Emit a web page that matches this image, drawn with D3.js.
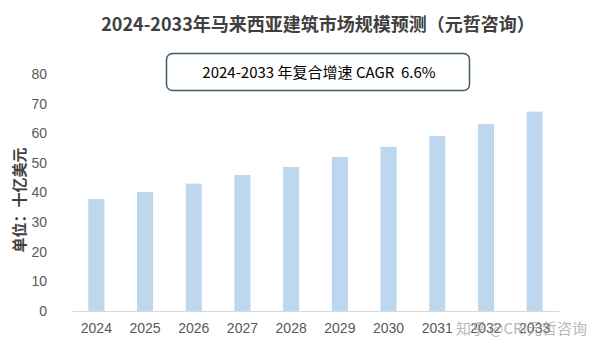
<!DOCTYPE html>
<html>
<head>
<meta charset="utf-8">
<script src="https://cdn.jsdelivr.net/npm/d3@7"></script>
<style>
  body { margin: 0; background: #fff; }
  svg { display: block; font-family: "Noto Sans CJK SC", "Noto Sans", sans-serif; }
</style>
</head>
<body>
<div id="chart"></div>
<script>
const years = ["2024", "2025", "2026", "2027", "2028", "2029", "2030", "2031", "2032", "2033"];
const marketSize = [37.8, 40.2, 43.0, 45.9, 48.6, 52.0, 55.4, 59.1, 63.1, 67.3];
const yTicks = [0, 10, 20, 30, 40, 50, 60, 70, 80];
const titleText = "2024-2033年马来西亚建筑市场规模预测（元哲咨询）";
const cagrText = "2024-2033 年复合增速 CAGR  6.6%";
const unitText = "单位：十亿美元";
const watermark = "知乎 @CRI元哲咨询";

const W = 600, H = 351;
const svg = d3.select("#chart").append("svg").attr("width", W).attr("height", H);

// plot area
const x = d3.scaleBand().domain(years).range([72, 559]).paddingInner(0.67).paddingOuter(0.335);
const y = d3.scaleLinear().domain([0, 80]).range([311, 74]);

// bars
svg.append("g").selectAll("rect")
  .data(years.map((d, i) => ({ year: d, v: marketSize[i] })))
  .join("rect")
    .attr("x", d => x(d.year))
    .attr("y", d => y(d.v))
    .attr("width", x.bandwidth())
    .attr("height", d => y(0) - y(d.v))
    .attr("fill", "#bdd7ee");

// x axis
const xAxis = svg.append("g").attr("transform", `translate(0,${y(0)})`)
  .call(d3.axisBottom(x).tickSize(0).tickPadding(12));
xAxis.select(".domain").attr("stroke", "#d9d9d9").attr("stroke-width", 1);
xAxis.selectAll("text").attr("fill", "#595959").style("font-size", "14px");

// y axis, labels only
const yAxis = svg.append("g").attr("transform", "translate(55,0)")
  .call(d3.axisLeft(y).tickValues(yTicks).tickSize(0).tickPadding(8));
yAxis.select(".domain").remove();
yAxis.selectAll("text").attr("fill", "#595959").style("font-size", "14px");

// title
svg.append("text")
  .attr("x", 318).attr("y", 31)
  .attr("text-anchor", "middle")
  .attr("fill", "#404040")
  .style("font-size", "18px").style("font-weight", "bold")
  .text(titleText);

// CAGR box
svg.append("rect")
  .attr("x", 166.5).attr("y", 53.5).attr("width", 303).attr("height", 37)
  .attr("rx", 6)
  .attr("fill", "#fff").attr("stroke", "#3e5c6e").attr("stroke-width", 1.5);
svg.append("text")
  .attr("x", 319).attr("y", 77.5)
  .attr("text-anchor", "middle")
  .attr("fill", "#000")
  .style("font-size", "15px")
  .attr("xml:space", "preserve")
  .text(cagrText);

// unit label
svg.append("text")
  .attr("transform", "translate(25,200) rotate(-90)")
  .attr("text-anchor", "middle")
  .attr("fill", "#404040")
  .style("font-size", "15px").style("font-weight", "bold")
  .text(unitText);

// watermark
svg.append("text")
  .attr("x", 587).attr("y", 334)
  .attr("text-anchor", "end")
  .attr("fill", "#9a9a9a").attr("opacity", 0.7)
  .style("font-size", "15px")
  .text(watermark);
</script>
</body>
</html>
